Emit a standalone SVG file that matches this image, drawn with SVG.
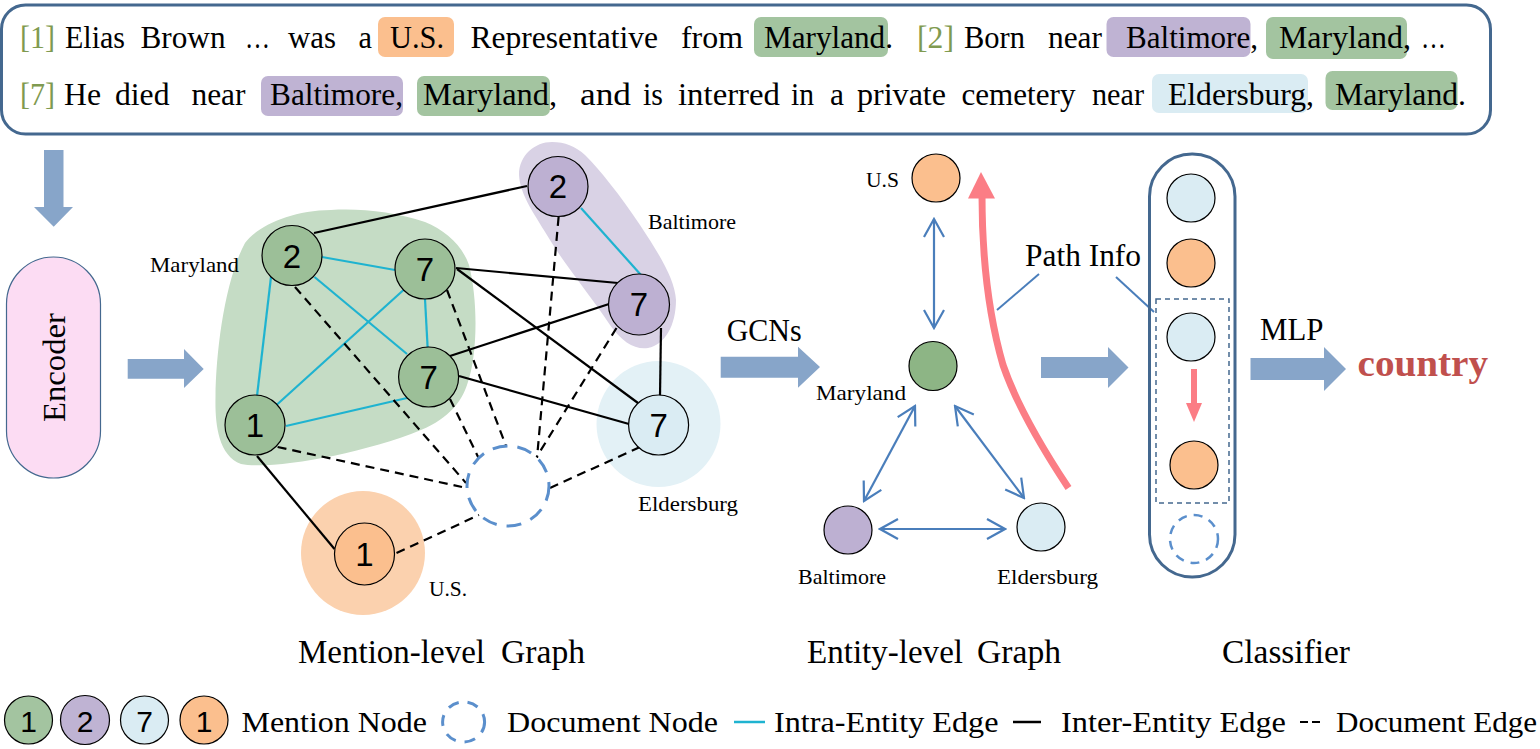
<svg xmlns="http://www.w3.org/2000/svg" width="1540" height="749" viewBox="0 0 1540 749">
<style>
text{font-family:"Liberation Serif","Times New Roman",serif;fill:#000}
.s{font-size:31px}.c{font-size:32px;fill:#7f9a50}.l{font-size:22px}.m{font-size:30px}.t{font-size:33px}.h{font-size:32px}
.n{font-family:"Liberation Sans",Arial,sans-serif;font-size:33px;text-anchor:middle}
.d{font-family:"Liberation Sans",Arial,sans-serif;font-size:30px;text-anchor:middle}
.g{fill:#9cbf98;stroke:#000;stroke-width:1.2}.p{fill:#bdb0d2;stroke:#000;stroke-width:1.2}.b{fill:#daecf3;stroke:#000;stroke-width:1.2}.o{fill:#fbbf8e;stroke:#000;stroke-width:1.2}
.hg{fill:#a3c4a0}.hp{fill:#bfb3d3}.hb{fill:#daecf3}.ho{fill:#fbbf8e}
.lg{stroke:#000;stroke-width:1.2}
.in{stroke:#1fb3d0;stroke-width:2.2;fill:none}.ex{stroke:#000;stroke-width:2.2;fill:none}.dd{stroke:#000;stroke-width:2.2;fill:none;stroke-dasharray:9 6}
.doc{fill:#fff;stroke:#5b8fcc;stroke-width:3;stroke-dasharray:15 10}
.ar{fill:#87a5c9}.da{stroke:#4a7ebb;stroke-width:2.2;fill:none;marker-start:url(#open);marker-end:url(#open)}
</style>
<defs>
<marker id="open" viewBox="-20 -12 22 24" refX="0" refY="0" markerWidth="22" markerHeight="24" markerUnits="userSpaceOnUse" orient="auto-start-reverse"><path d="M-18 -10L0 0L-18 10" fill="none" stroke="#4a7ebb" stroke-width="2.2"/></marker>
</defs>
<g id="sentence-box">
<rect x="1.5" y="5" width="1489" height="129" rx="24" fill="#fff" stroke="#44688f" stroke-width="3"/>
<rect class="ho" x="378" y="17" width="76" height="40" rx="7"/>
<rect class="hg" x="754" y="17" width="134" height="40" rx="7"/>
<rect class="hp" x="1106.500" y="17" width="144" height="40" rx="7"/>
<rect class="hg" x="1266" y="17" width="141" height="42" rx="7"/>
<rect class="hp" x="261" y="76" width="142" height="40" rx="7"/>
<rect class="hg" x="417" y="76" width="133" height="40" rx="7"/>
<rect class="hb" x="1152" y="74" width="156" height="39" rx="7"/>
<rect class="hg" x="1325.500" y="71" width="132" height="39" rx="7"/>
<text class="c" x="20" y="48" textLength="35" lengthAdjust="spacingAndGlyphs">[1]</text>
<text class="s" x="65" y="48" textLength="60" lengthAdjust="spacingAndGlyphs">Elias</text>
<text class="s" x="140.500" y="48" textLength="85" lengthAdjust="spacingAndGlyphs">Brown</text>
<text class="s" x="245" y="48" textLength="25" lengthAdjust="spacingAndGlyphs">…</text>
<text class="s" x="288" y="48" textLength="48" lengthAdjust="spacingAndGlyphs">was</text>
<text class="s" x="358.500" y="48" textLength="13.500" lengthAdjust="spacingAndGlyphs">a</text>
<text class="s" x="390" y="48" textLength="54" lengthAdjust="spacingAndGlyphs">U.S.</text>
<text class="s" x="470.500" y="48" textLength="187.500" lengthAdjust="spacingAndGlyphs">Representative</text>
<text class="s" x="681" y="48" textLength="62" lengthAdjust="spacingAndGlyphs">from</text>
<text class="s" x="764" y="48" textLength="129" lengthAdjust="spacingAndGlyphs">Maryland.</text>
<text class="c" x="917" y="48" textLength="37" lengthAdjust="spacingAndGlyphs">[2]</text>
<text class="s" x="964" y="48" textLength="61" lengthAdjust="spacingAndGlyphs">Born</text>
<text class="s" x="1048" y="48" textLength="54" lengthAdjust="spacingAndGlyphs">near</text>
<text class="s" x="1126" y="48" textLength="132" lengthAdjust="spacingAndGlyphs">Baltimore,</text>
<text class="s" x="1279" y="48" textLength="132" lengthAdjust="spacingAndGlyphs">Maryland,</text>
<text class="s" x="1421" y="48" textLength="25" lengthAdjust="spacingAndGlyphs">…</text>
<text class="c" x="20" y="105" textLength="35" lengthAdjust="spacingAndGlyphs">[7]</text>
<text class="s" x="64" y="105" textLength="37" lengthAdjust="spacingAndGlyphs">He</text>
<text class="s" x="115" y="105" textLength="54.500" lengthAdjust="spacingAndGlyphs">died</text>
<text class="s" x="191.500" y="105" textLength="54" lengthAdjust="spacingAndGlyphs">near</text>
<text class="s" x="270" y="105" textLength="133" lengthAdjust="spacingAndGlyphs">Baltimore,</text>
<text class="s" x="423" y="105" textLength="134" lengthAdjust="spacingAndGlyphs">Maryland,</text>
<text class="s" x="580" y="105" textLength="51" lengthAdjust="spacingAndGlyphs">and</text>
<text class="s" x="643" y="105" textLength="20" lengthAdjust="spacingAndGlyphs">is</text>
<text class="s" x="678" y="105" textLength="102" lengthAdjust="spacingAndGlyphs">interred</text>
<text class="s" x="791" y="105" textLength="23" lengthAdjust="spacingAndGlyphs">in</text>
<text class="s" x="830" y="105" textLength="14" lengthAdjust="spacingAndGlyphs">a</text>
<text class="s" x="857" y="105" textLength="89" lengthAdjust="spacingAndGlyphs">private</text>
<text class="s" x="961.500" y="105" textLength="114" lengthAdjust="spacingAndGlyphs">cemetery</text>
<text class="s" x="1092" y="105" textLength="52" lengthAdjust="spacingAndGlyphs">near</text>
<text class="s" x="1168" y="105" textLength="146" lengthAdjust="spacingAndGlyphs">Eldersburg,</text>
<text class="s" x="1335" y="105" textLength="131" lengthAdjust="spacingAndGlyphs">Maryland.</text>
</g>
<g id="encoder">
<rect x="6.500" y="257" width="94" height="221" rx="47" fill="#fcdcf3" stroke="#44688f" stroke-width="1.2"/>
<text x="65" y="422" transform="rotate(-90 65 422)" font-size="32" textLength="109" lengthAdjust="spacingAndGlyphs">Encoder</text>
</g>
<g id="block-arrows">
<path class="ar" d="M44 150H63.500V207H73L53.700 226.700L34 207H44Z"/>
<path class="ar" d="M127.700 359H184V349L203.700 369L184 388V378.700H127.700Z"/>
<path class="ar" d="M720.700 356.700H798V346.700L820 367L798 387.700V377.700H720.700Z"/>
<path class="ar" d="M1041 357H1108V347L1128.500 367.500L1108 388V378H1041Z"/>
<path class="ar" d="M1250.500 358H1324V347L1346 369L1324 391V380H1250.500Z"/>
</g>
<g id="entity-regions">
<path id="region-maryland" fill="#c5dcc5" d="M331 210C290 210 255 228 245 243C225 280 216 350 215.500 397C215 420 217 455 241 464C270 470 360 455 421 430C450 418 462 400 467 385C478 355 478 300 469 265C462 245 445 230 425 222C395 212 360 208 331 210Z"/>
<path id="region-baltimore" fill="#d9d2e5" d="M552 142C535 142 519 155 519 175C520 195 535 215 550 240C565 265 590 295 610 325C622 342 635 350 648 348C665 345 676 325 676 300C675 280 660 255 640 225C620 195 600 170 585 155C575 146 565 142 552 142Z"/>
<ellipse id="region-eldersburg" cx="658.500" cy="424" rx="62" ry="63" fill="#e3f1f6"/>
<ellipse id="region-us" cx="363" cy="553" rx="62" ry="62" fill="#fbd1ae"/>
</g>
<g id="connectors">
<path class="ex" d="M314 233L527 186"/>
<path class="ex" d="M456 268L618 283"/>
<path class="ex" d="M457 269L638 403"/>
<path class="ex" d="M450 356L609 304"/>
<path class="ex" d="M459 376L629 424"/>
<path class="ex" d="M661 328L660 396"/>
<path class="ex" d="M257 456L334.500 549"/>
<path class="in" d="M322 257L395 270"/>
<path class="in" d="M271 277L257 396"/>
<path class="in" d="M314.500 277L407 354"/>
<path class="in" d="M403.500 290L276.500 405"/>
<path class="in" d="M425 299L427.600 347"/>
<path class="in" d="M286 426L407 398"/>
<path class="in" d="M581 208L641 275"/>
<path class="dd" d="M295 287L466 483"/>
<path class="dd" d="M447 290L506 446"/>
<path class="dd" d="M450 399L478.600 458"/>
<path class="dd" d="M277.600 447L462 487"/>
<path class="dd" d="M558.600 217L537 458"/>
<path class="dd" d="M616.500 328L536 458"/>
<path class="dd" d="M640 447L550 488"/>
<path class="dd" d="M396.500 553L479 515"/>
<path class="da" d="M934 219V328"/>
<path class="da" d="M915 406L864 501"/>
<path class="da" d="M955 406L1024 498"/>
<path class="da" d="M880 529H1005"/>
<path d="M1068.500 488C1040 445 1015 400 1003 365C990 320 982 260 982 195" fill="none" stroke="#fb7d85" stroke-width="7"/>
<path d="M968 198.500L981 172L995 198.500Z" fill="#fb7d85"/>
<path d="M1039 274L997 310" stroke="#4a7ebb" stroke-width="2" fill="none"/>
<path d="M1116 277L1154 312" stroke="#4a7ebb" stroke-width="2" fill="none"/>
<path d="M1194 369V403" stroke="#fb7d85" stroke-width="6" fill="none"/>
<path d="M1186 403H1202L1194 422Z" fill="#fb7d85"/>
</g>
<g id="node-m2"><circle class="g" cx="292" cy="255.500" r="30"/><text class="n" x="292" y="268">2</text></g>
<g id="node-m7a"><circle class="g" cx="425" cy="269" r="30"/><text class="n" x="425" y="281">7</text></g>
<g id="node-m7b"><circle class="g" cx="428.600" cy="377" r="30"/><text class="n" x="428.600" y="389">7</text></g>
<g id="node-m1"><circle class="g" cx="255" cy="425" r="30"/><text class="n" x="255" y="437">1</text></g>
<g id="node-b2"><circle class="p" cx="558" cy="186.500" r="30"/><text class="n" x="558" y="198">2</text></g>
<g id="node-b7"><circle class="p" cx="639" cy="304.500" r="30.500"/><text class="n" x="639" y="316">7</text></g>
<g id="node-e7"><circle class="b" cx="658.600" cy="425" r="30"/><text class="n" x="658.600" y="437">7</text></g>
<g id="node-u1"><ellipse class="o" cx="364.500" cy="554" rx="30" ry="31"/><text class="n" x="364.500" y="566">1</text></g>
<g id="node-doc"><ellipse class="doc" cx="508" cy="486" rx="41" ry="40"/></g>
<g id="mention-labels">
<text class="l" x="150" y="272" textLength="89" lengthAdjust="spacingAndGlyphs">Maryland</text>
<text class="l" x="648" y="229" textLength="88" lengthAdjust="spacingAndGlyphs">Baltimore</text>
<text class="l" x="638" y="511" textLength="100" lengthAdjust="spacingAndGlyphs">Eldersburg</text>
<text class="l" x="429" y="596" textLength="38" lengthAdjust="spacingAndGlyphs">U.S.</text>
<text class="t" x="298" y="663" textLength="187" lengthAdjust="spacingAndGlyphs">Mention-level</text>
<text class="t" x="501" y="663" textLength="84" lengthAdjust="spacingAndGlyphs">Graph</text>
</g>
<text class="h" x="726.700" y="341" textLength="75" lengthAdjust="spacingAndGlyphs">GCNs</text>
<g id="entity-us"><circle class="o" cx="936" cy="178" r="24"/><text class="l" x="866" y="187" textLength="33" lengthAdjust="spacingAndGlyphs">U.S</text></g>
<g id="entity-maryland"><ellipse class="g" cx="933" cy="366" rx="24" ry="24.500" style="fill:#8db585"/><text class="l" x="816" y="400" textLength="90" lengthAdjust="spacingAndGlyphs">Maryland</text></g>
<g id="entity-baltimore"><circle class="p" cx="848" cy="530" r="24"/><text class="l" x="798" y="584" textLength="88" lengthAdjust="spacingAndGlyphs">Baltimore</text></g>
<g id="entity-eldersburg"><circle class="b" cx="1041" cy="527" r="24"/><text class="l" x="997" y="584" textLength="101" lengthAdjust="spacingAndGlyphs">Eldersburg</text></g>
<text class="t" x="807" y="663" textLength="156" lengthAdjust="spacingAndGlyphs">Entity-level</text>
<text class="t" x="977" y="663" textLength="84" lengthAdjust="spacingAndGlyphs">Graph</text>
<text class="h" x="1025" y="266" textLength="116" lengthAdjust="spacingAndGlyphs">Path Info</text>
<g id="classifier">
<rect x="1149.500" y="154" width="85.500" height="423" rx="42.500" fill="none" stroke="#44688f" stroke-width="3"/>
<rect x="1156" y="299" width="73" height="204" fill="none" stroke="#44688f" stroke-width="1.500" stroke-dasharray="5 4"/>
<circle class="b" cx="1191" cy="198" r="24"/>
<circle class="o" cx="1191" cy="263" r="24"/>
<circle class="b" cx="1191" cy="337" r="24"/>
<circle class="o" cx="1194" cy="465" r="24"/>
<circle cx="1194" cy="539" r="24" fill="none" stroke="#5b8fcc" stroke-width="2.500" stroke-dasharray="9 7"/>
<text class="t" x="1222" y="663" textLength="128" lengthAdjust="spacingAndGlyphs">Classifier</text>
</g>
<text class="h" x="1260" y="340" textLength="63.500" lengthAdjust="spacingAndGlyphs">MLP</text>
<text x="1357.500" y="376" font-size="37" font-weight="bold" style="fill:#c0504d" textLength="130.500" lengthAdjust="spacingAndGlyphs">country</text>
<g id="legend">
<circle class="hg lg" cx="28.500" cy="720" r="24"/><text class="d" x="28.500" y="732">1</text>
<circle class="hp lg" cx="85" cy="720" r="24.500"/><text class="d" x="85" y="732">2</text>
<circle class="hb lg" cx="144.500" cy="720" r="24"/><text class="d" x="144.500" y="732">7</text>
<circle class="ho lg" cx="204" cy="720" r="24"/><text class="d" x="204" y="732">1</text>
<text class="m" x="241.500" y="732" textLength="185.500" lengthAdjust="spacingAndGlyphs">Mention Node</text>
<ellipse cx="463.600" cy="722" rx="21" ry="20" fill="none" stroke="#5b8fcc" stroke-width="3" stroke-dasharray="11 9"/>
<text class="m" x="507" y="732" textLength="211" lengthAdjust="spacingAndGlyphs">Document Node</text>
<path class="in" d="M734 722H765" style="stroke-width:2.500"/>
<text class="m" x="774" y="732" textLength="224.500" lengthAdjust="spacingAndGlyphs">Intra-Entity Edge</text>
<path class="ex" d="M1013 722H1041" style="stroke-width:2.500"/>
<text class="m" x="1061" y="732" textLength="225" lengthAdjust="spacingAndGlyphs">Inter-Entity Edge</text>
<path class="ex" d="M1300 722H1308M1312 722H1320"/>
<text class="m" x="1336" y="732" textLength="201" lengthAdjust="spacingAndGlyphs">Document Edge</text>
</g>
</svg>
